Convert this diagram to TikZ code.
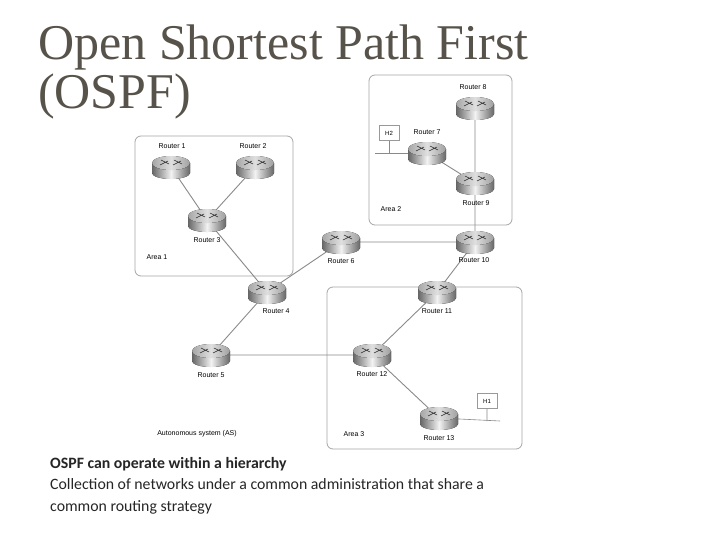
\documentclass[tikz,border=0pt]{standalone}
\usepackage{fontspec}
\setmainfont{Liberation Serif}
\newfontfamily\bodyfont{Carlito}
\newfontfamily\labfont{Liberation Sans}
\definecolor{titlegray}{HTML}{57534A}
\definecolor{linkgray}{HTML}{8A8A8A}
\tikzset{
  area/.style={draw=gray!70, rounded corners=6pt, line width=0.8pt},
  link/.style={draw=linkgray, line width=0.9pt},
  lab/.style={font=\labfont\fontsize{7}{8}\selectfont, inner sep=0pt},
  hostbox/.style={draw=gray!80, fill=white, line width=0.6pt, minimum width=20pt, minimum height=15pt, inner sep=0pt, font=\labfont\fontsize{6}{7}\selectfont},
  router/.pic={
    \fill[left color=gray!80!black, right color=gray!80!black, middle color=gray!10]
      (-19,-4) -- (-19,6) arc[start angle=180, end angle=0, x radius=19, y radius=6] -- (19,-4) -- cycle;
    \fill[left color=gray!70, right color=gray!75, middle color=gray!25] (0,-4) ellipse[x radius=19, y radius=7];
    \draw[gray!30!black, line width=0.5pt] (-10,-7) -- (-2,-3) (3,-7) -- (11,-3) (-11,-2) -- (-3,-6) (2,-2) -- (10,-6);
  }
}
\begin{document}
\begin{tikzpicture}[x=1pt, y=-1pt]
    \useasboundingbox (0,0) rectangle (728,546);
    \fill[white] (0,0) rectangle (728,546);

    % titel
    \node[anchor=north west, inner sep=0pt, align=left, text=titlegray,
          font=\fontsize{50}{49}\selectfont] (title) at (38,25) {Open Shortest Path First\\(OSPF)};

    % router positions
    \coordinate (r1) at (171,167);  \coordinate (r2) at (255,167);
    \coordinate (r3) at (207,220);  \coordinate (r4) at (267,292);
    \coordinate (r5) at (211,355);  \coordinate (r6) at (341,242);
    \coordinate (r7) at (427,153);  \coordinate (r8) at (475,108);
    \coordinate (r9) at (475,183);  \coordinate (r10) at (475,242);
    \coordinate (r11) at (437,292); \coordinate (r12) at (372,355);
    \coordinate (r13) at (439,418);

    % areas
    \draw[area] (135,136) rectangle (293,276);
    \draw[area] (369,75) rectangle (512,225);
    \draw[area] (327,287) rectangle (522,449);

    % links
    \draw[link] (r1) -- (r3) (r2) -- (r3) (r3) -- (r4) (r4) -- (r6) (r4) -- (r5)
      (r6) -- (r10) (r8) -- (r9) (r7) -- (r9) (r9) -- (r10) (r10) -- (r11)
      (r11) -- (r12) (r5) -- (r12) (r12) -- (r13);

    % hosts
    \node[hostbox] (h2) at (389,133) {H2};
    \coordinate (h2l) at (375,153);
    \draw[link, line width=0.6pt] (h2l) -- (r7) (h2.south) -- (h2.south |- h2l);
    \node[hostbox] (h1) at (487,401) {H1};
    \coordinate (h1r) at (500,421);
    \draw[link, line width=0.6pt] (r13) -- (h1r) (h1.south) -- (h1.south |- h1r);

    % routers
    \foreach \r in {r1,r2,r3,r4,r5,r6,r7,r8,r9,r10,r11,r12,r13}
      \pic at (\r) {router};

    % labels
    \node[lab] (l1) at (172,146) {Router 1};
    \node[lab] (l2) at (253,146) {Router 2};
    \node[lab] (l3) at (207,240) {Router 3};
    \node[lab] (l4) at (276,311) {Router 4};
    \node[lab] (l5) at (211,375) {Router 5};
    \node[lab] (l6) at (341,261) {Router 6};
    \node[lab] (l7) at (427,132) {Router 7};
    \node[lab] (l8) at (473,87) {Router 8};
    \node[lab] (l9) at (476,203) {Router 9};
    \node[lab] (l10) at (474,260) {Router 10};
    \node[lab] (l11) at (437,311) {Router 11};
    \node[lab] (l12) at (372,374) {Router 12};
    \node[lab] (l13) at (439,438) {Router 13};
    \node[lab] (a1) at (157,257) {Area 1};
    \node[lab] (a2) at (391,209) {Area 2};
    \node[lab] (a3) at (354,434) {Area 3};
    \node[lab] (as) at (197,434) {Autonomous system (AS)};

    % text below
    \node[anchor=north west, inner sep=0pt, align=left, text=black!85,
          font=\bodyfont\fontsize{15.8}{21.5}\selectfont] (body) at (50,457)
      {\textbf{OSPF can operate within a hierarchy}\\Collection of networks under a common administration that share a\\common routing strategy};
\end{tikzpicture}
\end{document}
